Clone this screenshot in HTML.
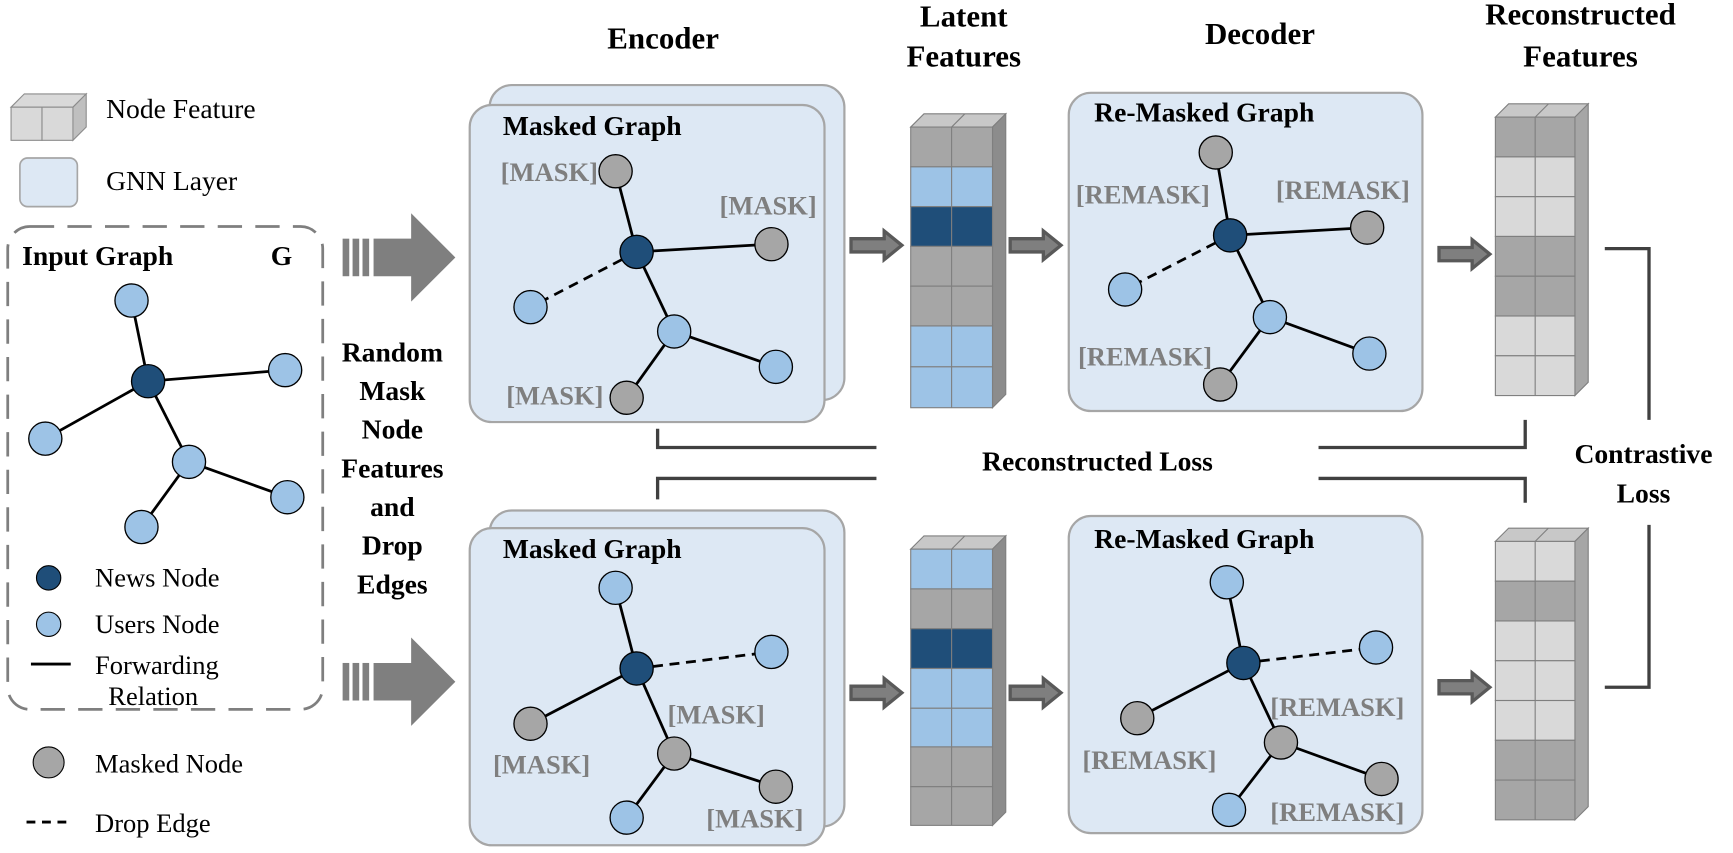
<!DOCTYPE html>
<html><head><meta charset="utf-8"><style>html,body{margin:0;padding:0;background:#fff;overflow:hidden}svg{display:block}text{font-family:"Liberation Serif",serif}</style></head><body>
<svg width="1733" height="853" viewBox="0 0 1568 772" preserveAspectRatio="none" xmlns="http://www.w3.org/2000/svg">
<defs>
<g id="arrS"><polygon points="0,-6 30,-6 30,-13 46,0 30,13 30,6 0,6" fill="#7f7f7f" stroke="#595959" stroke-width="3"/></g>
<g id="arrB"><rect x="0" y="-17" width="6" height="34" fill="#7f7f7f"/><rect x="9" y="-17" width="6" height="34" fill="#7f7f7f"/><rect x="18" y="-17" width="6" height="34" fill="#7f7f7f"/><polygon points="28,-17 62,-17 62,-40 102,0 62,40 62,17 28,17" fill="#7f7f7f"/></g>
</defs>
<g font-weight="bold" font-size="28" text-anchor="middle" fill="#000">
<text x="600" y="44">Encoder</text>
<text x="872" y="24">Latent</text><text x="872" y="60">Features</text>
<text x="1140" y="40">Decoder</text>
<text x="1430" y="22">Reconstructed</text><text x="1430" y="60">Features</text>
</g>
<polygon points="10,97 22,85 78,85 66,97" fill="#d9d9d9" stroke="#8c8c8c"/>
<polygon points="66,97 78,85 78,115 66,127" fill="#bfbfbf" stroke="#8c8c8c"/>
<rect x="10" y="97" width="28" height="30" fill="#d9d9d9" stroke="#8c8c8c"/><rect x="38" y="97" width="28" height="30" fill="#d9d9d9" stroke="#8c8c8c"/>
<text x="96" y="107" font-size="25">Node Feature</text>
<rect x="18" y="143" width="52" height="44" rx="7" fill="#dde8f4" stroke="#a6a6a6" stroke-width="1.5"/>
<text x="96" y="172" font-size="25">GNN Layer</text>
<rect x="7" y="205" width="285" height="437" rx="20" fill="none" stroke="#7f7f7f" stroke-width="2.5" stroke-dasharray="22,12"/>
<text x="20" y="240" font-size="25" font-weight="bold">Input Graph</text>
<text x="245" y="240" font-size="25" font-weight="bold">G</text>
<g stroke="#000" stroke-width="2.5"><line x1="134" y1="345" x2="119" y2="272"/><line x1="134" y1="345" x2="258" y2="335"/><line x1="134" y1="345" x2="41" y2="397"/><line x1="134" y1="345" x2="171" y2="418"/><line x1="171" y1="418" x2="260" y2="450"/><line x1="171" y1="418" x2="128" y2="477"/></g>
<g stroke="#000" stroke-width="1.2" fill="#9dc3e6"><circle cx="119" cy="272" r="15"/><circle cx="258" cy="335" r="15"/><circle cx="41" cy="397" r="15"/><circle cx="171" cy="418" r="15"/><circle cx="260" cy="450" r="15"/><circle cx="128" cy="477" r="15"/><circle cx="134" cy="345" r="15" fill="#1f4e79"/></g>
<g font-size="24"><circle cx="44" cy="523" r="11" fill="#1f4e79" stroke="#000"/><text x="86" y="531">News Node</text>
<circle cx="44" cy="565" r="11" fill="#9dc3e6" stroke="#000"/><text x="86" y="573">Users Node</text>
<line x1="28" y1="601" x2="64" y2="601" stroke="#000" stroke-width="2.5"/><text x="86" y="610">Forwarding</text><text x="98" y="638">Relation</text>
<circle cx="44" cy="690" r="14" fill="#a6a6a6" stroke="#000"/><text x="86" y="699">Masked Node</text>
<line x1="24" y1="744" x2="66" y2="744" stroke="#000" stroke-width="2.5" stroke-dasharray="8,6"/><text x="86" y="753">Drop Edge</text></g>
<g font-size="25" font-weight="bold" text-anchor="middle"><text x="355" y="327">Random</text><text x="355" y="362">Mask</text><text x="355" y="397">Node</text><text x="355" y="432">Features</text><text x="355" y="467">and</text><text x="355" y="502">Drop</text><text x="355" y="537">Edges</text></g>
<use href="#arrB" x="310" y="233"/><use href="#arrB" x="310" y="617"/>
<rect x="443" y="77" width="321" height="285" rx="20" fill="#dde8f4" stroke="#a6a6a6" stroke-width="2"/>
<rect x="425" y="95" width="321" height="287" rx="20" fill="#dde8f4" stroke="#a6a6a6" stroke-width="2"/>
<rect x="443" y="462" width="321" height="286" rx="20" fill="#dde8f4" stroke="#a6a6a6" stroke-width="2"/>
<rect x="425" y="478" width="321" height="287" rx="20" fill="#dde8f4" stroke="#a6a6a6" stroke-width="2"/>
<rect x="967" y="84" width="320" height="288" rx="20" fill="#dde8f4" stroke="#a6a6a6" stroke-width="2"/>
<rect x="967" y="467" width="320" height="287" rx="20" fill="#dde8f4" stroke="#a6a6a6" stroke-width="2"/>
<g font-size="25" font-weight="bold"><text x="455" y="122">Masked Graph</text><text x="455" y="505">Masked Graph</text><text x="990" y="110">Re-Masked Graph</text><text x="990" y="496">Re-Masked Graph</text></g>
<g stroke="#000" stroke-width="2.5">
<line x1="576" y1="228" x2="557" y2="155"/><line x1="576" y1="228" x2="698" y2="221"/><line x1="576" y1="228" x2="480" y2="278" stroke-dasharray="9,6"/><line x1="576" y1="228" x2="610" y2="300"/><line x1="610" y1="300" x2="702" y2="332"/><line x1="610" y1="300" x2="567" y2="360"/>
<line x1="1113" y1="213" x2="1100" y2="138"/><line x1="1113" y1="213" x2="1237" y2="206"/><line x1="1113" y1="213" x2="1018" y2="262" stroke-dasharray="9,6"/><line x1="1113" y1="213" x2="1149" y2="287"/><line x1="1149" y1="287" x2="1239" y2="320"/><line x1="1149" y1="287" x2="1104" y2="348"/>
<line x1="576" y1="605" x2="557" y2="532"/><line x1="576" y1="605" x2="698" y2="590" stroke-dasharray="9,6"/><line x1="576" y1="605" x2="480" y2="655"/><line x1="576" y1="605" x2="610" y2="682"/><line x1="610" y1="682" x2="702" y2="712"/><line x1="610" y1="682" x2="567" y2="740"/>
<line x1="1125" y1="600" x2="1110" y2="527"/><line x1="1125" y1="600" x2="1245" y2="586" stroke-dasharray="9,6"/><line x1="1125" y1="600" x2="1029" y2="650"/><line x1="1125" y1="600" x2="1159" y2="672"/><line x1="1159" y1="672" x2="1250" y2="705"/><line x1="1159" y1="672" x2="1112" y2="733"/>
</g>
<g stroke="#000" stroke-width="1.2">
<circle cx="557" cy="155" r="15" fill="#a6a6a6"/><circle cx="698" cy="221" r="15" fill="#a6a6a6"/><circle cx="480" cy="278" r="15" fill="#9dc3e6"/><circle cx="610" cy="300" r="15" fill="#9dc3e6"/><circle cx="702" cy="332" r="15" fill="#9dc3e6"/><circle cx="567" cy="360" r="15" fill="#a6a6a6"/><circle cx="576" cy="228" r="15" fill="#1f4e79"/>
<circle cx="1100" cy="138" r="15" fill="#a6a6a6"/><circle cx="1237" cy="206" r="15" fill="#a6a6a6"/><circle cx="1018" cy="262" r="15" fill="#9dc3e6"/><circle cx="1149" cy="287" r="15" fill="#9dc3e6"/><circle cx="1239" cy="320" r="15" fill="#9dc3e6"/><circle cx="1104" cy="348" r="15" fill="#a6a6a6"/><circle cx="1113" cy="213" r="15" fill="#1f4e79"/>
<circle cx="557" cy="532" r="15" fill="#9dc3e6"/><circle cx="698" cy="590" r="15" fill="#9dc3e6"/><circle cx="480" cy="655" r="15" fill="#a6a6a6"/><circle cx="610" cy="682" r="15" fill="#a6a6a6"/><circle cx="702" cy="712" r="15" fill="#a6a6a6"/><circle cx="567" cy="740" r="15" fill="#9dc3e6"/><circle cx="576" cy="605" r="15" fill="#1f4e79"/>
<circle cx="1110" cy="527" r="15" fill="#9dc3e6"/><circle cx="1245" cy="586" r="15" fill="#9dc3e6"/><circle cx="1029" cy="650" r="15" fill="#a6a6a6"/><circle cx="1159" cy="672" r="15" fill="#a6a6a6"/><circle cx="1250" cy="705" r="15" fill="#a6a6a6"/><circle cx="1112" cy="733" r="15" fill="#9dc3e6"/><circle cx="1125" cy="600" r="15" fill="#1f4e79"/>
</g>
<g font-size="24" font-weight="bold" fill="#7f7f7f" text-anchor="middle">
<text x="497" y="164">[MASK]</text><text x="695" y="194">[MASK]</text><text x="502" y="366">[MASK]</text>
<text x="1034" y="184">[REMASK]</text><text x="1215" y="180">[REMASK]</text><text x="1036" y="331">[REMASK]</text>
<text x="648" y="655">[MASK]</text><text x="490" y="700">[MASK]</text><text x="683" y="749">[MASK]</text>
<text x="1210" y="648">[REMASK]</text><text x="1040" y="696">[REMASK]</text><text x="1210" y="743">[REMASK]</text>
</g>
<use href="#arrS" x="770" y="222"/><use href="#arrS" x="914" y="222"/><use href="#arrS" x="1302" y="230"/>
<use href="#arrS" x="770" y="627"/><use href="#arrS" x="914" y="627"/><use href="#arrS" x="1302" y="622"/>
<g stroke="#7f7f7f" stroke-width="1">
<polygon points="824,115 836,103 910,103 898,115" fill="#c8c8c8"/><line x1="861" y1="115" x2="873" y2="103"/>
<polygon points="898,115 910,103 910,357 898,369" fill="#8c8c8c"/>
<rect x="824" y="115" width="74" height="36" fill="#a6a6a6"/><rect x="824" y="151" width="74" height="36" fill="#9dc3e6"/><rect x="824" y="187" width="74" height="36" fill="#1f4e79"/><rect x="824" y="223" width="74" height="36" fill="#a6a6a6"/><rect x="824" y="259" width="74" height="36" fill="#a6a6a6"/><rect x="824" y="295" width="74" height="37" fill="#9dc3e6"/><rect x="824" y="332" width="74" height="37" fill="#9dc3e6"/>
<line x1="861" y1="115" x2="861" y2="369"/>
<polygon points="824,497 836,485 910,485 898,497" fill="#c8c8c8"/><line x1="861" y1="497" x2="873" y2="485"/>
<polygon points="898,497 910,485 910,735 898,747" fill="#8c8c8c"/>
<rect x="824" y="497" width="74" height="36" fill="#9dc3e6"/><rect x="824" y="533" width="74" height="36" fill="#a6a6a6"/><rect x="824" y="569" width="74" height="36" fill="#1f4e79"/><rect x="824" y="605" width="74" height="36" fill="#9dc3e6"/><rect x="824" y="641" width="74" height="35" fill="#9dc3e6"/><rect x="824" y="676" width="74" height="36" fill="#a6a6a6"/><rect x="824" y="712" width="74" height="35" fill="#a6a6a6"/>
<line x1="861" y1="497" x2="861" y2="747"/>
<polygon points="1353,106 1365,94 1437,94 1425,106" fill="#c8c8c8"/><line x1="1389" y1="106" x2="1401" y2="94"/>
<polygon points="1425,106 1437,94 1437,346 1425,358" fill="#a6a6a6"/>
<rect x="1353" y="106" width="72" height="36" fill="#a6a6a6"/><rect x="1353" y="142" width="72" height="36" fill="#d9d9d9"/><rect x="1353" y="178" width="72" height="36" fill="#d9d9d9"/><rect x="1353" y="214" width="72" height="36" fill="#a6a6a6"/><rect x="1353" y="250" width="72" height="36" fill="#a6a6a6"/><rect x="1353" y="286" width="72" height="36" fill="#d9d9d9"/><rect x="1353" y="322" width="72" height="36" fill="#d9d9d9"/>
<line x1="1389" y1="106" x2="1389" y2="358"/>
<polygon points="1353,490 1365,478 1437,478 1425,490" fill="#c8c8c8"/><line x1="1389" y1="490" x2="1401" y2="478"/>
<polygon points="1425,490 1437,478 1437,730 1425,742" fill="#a6a6a6"/>
<rect x="1353" y="490" width="72" height="36" fill="#d9d9d9"/><rect x="1353" y="526" width="72" height="36" fill="#a6a6a6"/><rect x="1353" y="562" width="72" height="36" fill="#d9d9d9"/><rect x="1353" y="598" width="72" height="36" fill="#d9d9d9"/><rect x="1353" y="634" width="72" height="36" fill="#d9d9d9"/><rect x="1353" y="670" width="72" height="36" fill="#a6a6a6"/><rect x="1353" y="706" width="72" height="36" fill="#a6a6a6"/>
<line x1="1389" y1="490" x2="1389" y2="742"/>
</g>
<g fill="none" stroke="#404040" stroke-width="3">
<polyline points="595,388 595,405 793,405"/><polyline points="1193,405 1380,405 1380,380"/>
<polyline points="595,452 595,433 793,433"/><polyline points="1193,433 1380,433 1380,455"/>
<polyline points="1452,225 1492,225 1492,380"/><polyline points="1492,475 1492,622 1452,622"/>
</g>
<g font-size="25" font-weight="bold" text-anchor="middle"><text x="993" y="426">Reconstructed Loss</text><text x="1487" y="419">Contrastive</text><text x="1487" y="455">Loss</text></g>
</svg>
</body></html>
